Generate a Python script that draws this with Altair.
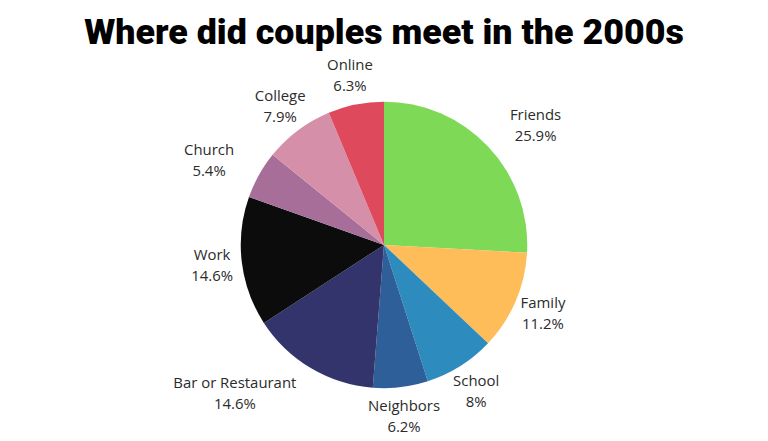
import altair as alt
import pandas as pd

labels = ["Friends", "Family", "School", "Neighbors", "Bar or Restaurant",
          "Work", "Church", "College", "Online"]
values = [25.9, 11.2, 8, 6.2, 14.6, 14.6, 5.4, 7.9, 6.3]
colors = ["#7ed957", "#ffbd59", "#2e8bbd", "#2f5f98", "#32346b",
          "#0c0c0c", "#a66e98", "#d68fa9", "#de4a5b"]

# horizontal nudges of a few labels, as in the reference layout
nudge = {"Friends": 26, "Bar or Restaurant": -61, "Church": -24}
dx_expr = " : ".join(f"datum.label == '{k}' ? {v}" for k, v in nudge.items()) + " : 0"

df = pd.DataFrame({"label": labels, "value": values, "idx": list(range(len(labels)))})

W, H = 756, 354
CX, CY = W / 2, H / 2

base = alt.Chart(df).encode(
    theta=alt.Theta("value:Q", stack=True),
    order=alt.Order("idx:Q", sort="ascending"),
)

pie = base.mark_arc(outerRadius=144).encode(
    color=alt.Color("label:N", scale=alt.Scale(domain=labels, range=colors), legend=None),
    x=alt.value(CX), y=alt.value(CY),
)

text = base.transform_calculate(
    txt="datum.label + '\\n' + datum.value + '%'"
).mark_text(
    radius=174, font="Open Sans", fontSize=15, color="#2b2b2b",
    lineBreak="\n", lineHeight=21, align="center", baseline="middle", dy=-10.5,
    dx=alt.ExprRef(expr=dx_expr),
).encode(text="txt:N", x=alt.value(CX), y=alt.value(CY))

chart = alt.layer(pie, text).properties(
    width=W, height=H,
    padding={"left": 0, "right": 0, "top": 5, "bottom": 0},
    title=alt.TitleParams(
        "Where did couples meet in the 2000s",
        font="Roboto",
        fontSize=36, fontWeight=900, color="#000000", anchor="middle", offset=6,
    ),
).configure_view(stroke=None)

chart.save("out.html", embed_options={"renderer": "svg", "actions": False})
